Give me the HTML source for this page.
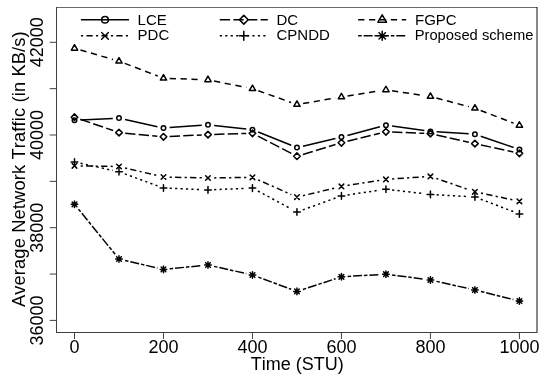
<!DOCTYPE html><html><head><meta charset="utf-8"><style>html,body{margin:0;padding:0;background:#fff;}svg{display:block;}text{font-family:"Liberation Sans",Arial,sans-serif;fill:#000;font-kerning:none;}</style></head><body>
<svg width="550" height="381" viewBox="0 0 550 381">
<rect width="550" height="381" fill="#fff"/>
<path d="M56.5 7V333" stroke="#404040" stroke-width="1"/>
<path d="M56 332.5H537.5" stroke="#404040" stroke-width="1"/>
<path d="M57 7.5H537" stroke="#6a6a6a" stroke-width="1"/>
<path d="M537 7V332" stroke="#111" stroke-width="1"/>
<path d="M74.5 332.5V339M163.48 332.5V339M252.46 332.5V339M341.44 332.5V339M430.42 332.5V339M519.4 332.5V339M56.5 320.4H49.7M56.5 274.05H49.7M56.5 227.7H49.7M56.5 181.35H49.7M56.5 135H49.7M56.5 88.65H49.7M56.5 42.3H49.7" stroke="#404040" stroke-width="1" fill="none"/>
<text x="74.5" y="353.4" font-size="18" text-anchor="middle">0</text>
<text x="163.48" y="353.4" font-size="18" text-anchor="middle">200</text>
<text x="252.46" y="353.4" font-size="18" text-anchor="middle">400</text>
<text x="341.44" y="353.4" font-size="18" text-anchor="middle">600</text>
<text x="430.42" y="353.4" font-size="18" text-anchor="middle">800</text>
<text x="519.4" y="353.4" font-size="18" text-anchor="middle">1000</text>
<text transform="translate(43.2 320.4) rotate(-90)" font-size="18" text-anchor="middle">36000</text>
<text transform="translate(43.2 227.7) rotate(-90)" font-size="18" text-anchor="middle">38000</text>
<text transform="translate(43.2 135) rotate(-90)" font-size="18" text-anchor="middle">40000</text>
<text transform="translate(43.2 42.3) rotate(-90)" font-size="18" text-anchor="middle">42000</text>
<text x="297.2" y="370.4" font-size="18" text-anchor="middle">Time (STU)</text>
<text transform="translate(24.8 169.2) rotate(-90)" font-size="18.3" text-anchor="middle" textLength="275.8" lengthAdjust="spacing">Average Network Traffic (in KB/s)</text>
<g fill="none" stroke="#000" stroke-width="1.5" stroke-dasharray="6.24 4.64"><path d="M80.46 50.07L113.03 59.48"/><path d="M124.78 63.41L157.69 75.99"/><path d="M169.68 78.42L201.77 79.58"/><path d="M214.05 81.02L246.38 87.48"/><path d="M258.3 90.77L291.11 102.43"/><path d="M303.06 103.47L335.33 98.03"/><path d="M347.56 96.02L379.81 90.88"/><path d="M392.06 90.81L424.29 95.59"/><path d="M436.42 98.08L468.91 106.62"/><path d="M480.69 110.44L513.62 123.16"/></g>
<path d="M74.5 44.7L77.66 50.18L71.34 50.18Z" fill="none" stroke="#000" stroke-width="1.5" stroke-linecap="round" stroke-linejoin="round"/>
<path d="M118.99 57.55L122.15 63.03L115.83 63.03Z" fill="none" stroke="#000" stroke-width="1.5" stroke-linecap="round" stroke-linejoin="round"/>
<path d="M163.48 74.55L166.64 80.03L160.32 80.03Z" fill="none" stroke="#000" stroke-width="1.5" stroke-linecap="round" stroke-linejoin="round"/>
<path d="M207.97 76.15L211.13 81.63L204.81 81.63Z" fill="none" stroke="#000" stroke-width="1.5" stroke-linecap="round" stroke-linejoin="round"/>
<path d="M252.46 85.05L255.62 90.53L249.3 90.53Z" fill="none" stroke="#000" stroke-width="1.5" stroke-linecap="round" stroke-linejoin="round"/>
<path d="M296.95 100.85L300.11 106.33L293.79 106.33Z" fill="none" stroke="#000" stroke-width="1.5" stroke-linecap="round" stroke-linejoin="round"/>
<path d="M341.44 93.35L344.6 98.83L338.28 98.83Z" fill="none" stroke="#000" stroke-width="1.5" stroke-linecap="round" stroke-linejoin="round"/>
<path d="M385.93 86.25L389.09 91.73L382.77 91.73Z" fill="none" stroke="#000" stroke-width="1.5" stroke-linecap="round" stroke-linejoin="round"/>
<path d="M430.42 92.85L433.58 98.33L427.26 98.33Z" fill="none" stroke="#000" stroke-width="1.5" stroke-linecap="round" stroke-linejoin="round"/>
<path d="M474.91 104.55L478.07 110.03L471.75 110.03Z" fill="none" stroke="#000" stroke-width="1.5" stroke-linecap="round" stroke-linejoin="round"/>
<path d="M519.4 121.75L522.56 127.23L516.24 127.23Z" fill="none" stroke="#000" stroke-width="1.5" stroke-linecap="round" stroke-linejoin="round"/>
<g fill="none" stroke="#000" stroke-width="1.5"><path d="M80.69 119.91L112.8 118.39"/><path d="M125.04 119.45L157.43 126.65"/><path d="M169.66 127.56L201.79 125.24"/><path d="M214.13 125.48L246.3 129.02"/><path d="M258.21 132.01L291.2 145.29"/><path d="M302.98 146.16L335.41 138.44"/><path d="M347.43 135.41L379.94 126.79"/><path d="M392.07 126.06L424.28 130.54"/><path d="M436.61 131.79L468.72 133.81"/><path d="M480.77 136.22L513.54 147.48"/></g>
<circle cx="74.5" cy="120.2" r="2.25" fill="none" stroke="#000" stroke-width="1.5" stroke-linecap="round"/>
<circle cx="118.99" cy="118.1" r="2.25" fill="none" stroke="#000" stroke-width="1.5" stroke-linecap="round"/>
<circle cx="163.48" cy="128" r="2.25" fill="none" stroke="#000" stroke-width="1.5" stroke-linecap="round"/>
<circle cx="207.97" cy="124.8" r="2.25" fill="none" stroke="#000" stroke-width="1.5" stroke-linecap="round"/>
<circle cx="252.46" cy="129.7" r="2.25" fill="none" stroke="#000" stroke-width="1.5" stroke-linecap="round"/>
<circle cx="296.95" cy="147.6" r="2.25" fill="none" stroke="#000" stroke-width="1.5" stroke-linecap="round"/>
<circle cx="341.44" cy="137" r="2.25" fill="none" stroke="#000" stroke-width="1.5" stroke-linecap="round"/>
<circle cx="385.93" cy="125.2" r="2.25" fill="none" stroke="#000" stroke-width="1.5" stroke-linecap="round"/>
<circle cx="430.42" cy="131.4" r="2.25" fill="none" stroke="#000" stroke-width="1.5" stroke-linecap="round"/>
<circle cx="474.91" cy="134.2" r="2.25" fill="none" stroke="#000" stroke-width="1.5" stroke-linecap="round"/>
<circle cx="519.4" cy="149.5" r="2.25" fill="none" stroke="#000" stroke-width="1.5" stroke-linecap="round"/>
<g fill="none" stroke="#000" stroke-width="1.5" stroke-dasharray="10.32 3.28"><path d="M80.36 119.23L113.13 130.57"/><path d="M125.16 133.18L157.31 136.22"/><path d="M169.67 136.49L201.78 134.91"/><path d="M214.17 134.42L246.26 133.48"/><path d="M257.97 136.14L291.44 153.36"/><path d="M302.89 154.41L335.5 144.59"/><path d="M347.46 141.31L379.91 133.29"/><path d="M392.12 132.05L424.23 133.35"/><path d="M436.47 134.96L468.86 142.24"/><path d="M480.97 144.92L513.34 151.98"/></g>
<path d="M74.5 113.9L77.8 117.2L74.5 120.5L71.2 117.2Z" fill="none" stroke="#000" stroke-width="1.5" stroke-linecap="round" stroke-linejoin="round"/>
<path d="M118.99 129.3L122.29 132.6L118.99 135.9L115.69 132.6Z" fill="none" stroke="#000" stroke-width="1.5" stroke-linecap="round" stroke-linejoin="round"/>
<path d="M163.48 133.5L166.78 136.8L163.48 140.1L160.18 136.8Z" fill="none" stroke="#000" stroke-width="1.5" stroke-linecap="round" stroke-linejoin="round"/>
<path d="M207.97 131.3L211.27 134.6L207.97 137.9L204.67 134.6Z" fill="none" stroke="#000" stroke-width="1.5" stroke-linecap="round" stroke-linejoin="round"/>
<path d="M252.46 130L255.76 133.3L252.46 136.6L249.16 133.3Z" fill="none" stroke="#000" stroke-width="1.5" stroke-linecap="round" stroke-linejoin="round"/>
<path d="M296.95 152.9L300.25 156.2L296.95 159.5L293.65 156.2Z" fill="none" stroke="#000" stroke-width="1.5" stroke-linecap="round" stroke-linejoin="round"/>
<path d="M341.44 139.5L344.74 142.8L341.44 146.1L338.14 142.8Z" fill="none" stroke="#000" stroke-width="1.5" stroke-linecap="round" stroke-linejoin="round"/>
<path d="M385.93 128.5L389.23 131.8L385.93 135.1L382.63 131.8Z" fill="none" stroke="#000" stroke-width="1.5" stroke-linecap="round" stroke-linejoin="round"/>
<path d="M430.42 130.3L433.72 133.6L430.42 136.9L427.12 133.6Z" fill="none" stroke="#000" stroke-width="1.5" stroke-linecap="round" stroke-linejoin="round"/>
<path d="M474.91 140.3L478.21 143.6L474.91 146.9L471.61 143.6Z" fill="none" stroke="#000" stroke-width="1.5" stroke-linecap="round" stroke-linejoin="round"/>
<path d="M519.4 150L522.7 153.3L519.4 156.6L516.1 153.3Z" fill="none" stroke="#000" stroke-width="1.5" stroke-linecap="round" stroke-linejoin="round"/>
<g fill="none" stroke="#000" stroke-width="1.5" stroke-dasharray="2.16 3.28 6.24 3.28"><path d="M80.7 165.9L112.79 166.4"/><path d="M125.02 167.92L157.45 175.58"/><path d="M169.68 177.14L201.77 177.86"/><path d="M214.17 177.9L246.26 177.4"/><path d="M258.12 179.82L291.29 194.58"/><path d="M302.98 195.65L335.41 187.85"/><path d="M347.56 185.44L379.81 180.36"/><path d="M392.12 178.98L424.23 176.82"/><path d="M436.28 178.43L469.05 189.77"/><path d="M480.97 193.09L513.34 200.01"/></g>
<path d="M72.2 163.5L76.8 168.1M72.2 168.1L76.8 163.5" fill="none" stroke="#000" stroke-width="1.5" stroke-linecap="round"/>
<path d="M116.69 164.2L121.29 168.8M116.69 168.8L121.29 164.2" fill="none" stroke="#000" stroke-width="1.5" stroke-linecap="round"/>
<path d="M161.18 174.7L165.78 179.3M161.18 179.3L165.78 174.7" fill="none" stroke="#000" stroke-width="1.5" stroke-linecap="round"/>
<path d="M205.67 175.7L210.27 180.3M205.67 180.3L210.27 175.7" fill="none" stroke="#000" stroke-width="1.5" stroke-linecap="round"/>
<path d="M250.16 175L254.76 179.6M250.16 179.6L254.76 175" fill="none" stroke="#000" stroke-width="1.5" stroke-linecap="round"/>
<path d="M294.65 194.8L299.25 199.4M294.65 199.4L299.25 194.8" fill="none" stroke="#000" stroke-width="1.5" stroke-linecap="round"/>
<path d="M339.14 184.1L343.74 188.7M339.14 188.7L343.74 184.1" fill="none" stroke="#000" stroke-width="1.5" stroke-linecap="round"/>
<path d="M383.63 177.1L388.23 181.7M383.63 181.7L388.23 177.1" fill="none" stroke="#000" stroke-width="1.5" stroke-linecap="round"/>
<path d="M428.12 174.1L432.72 178.7M428.12 178.7L432.72 174.1" fill="none" stroke="#000" stroke-width="1.5" stroke-linecap="round"/>
<path d="M472.61 189.5L477.21 194.1M472.61 194.1L477.21 189.5" fill="none" stroke="#000" stroke-width="1.5" stroke-linecap="round"/>
<path d="M517.1 199L521.7 203.6M517.1 203.6L521.7 199" fill="none" stroke="#000" stroke-width="1.5" stroke-linecap="round"/>
<g fill="none" stroke="#000" stroke-width="1.5" stroke-dasharray="2.16 3.28"><path d="M80.55 163.33L112.94 170.47"/><path d="M124.82 173.92L157.65 185.88"/><path d="M169.67 188.26L201.78 189.64"/><path d="M214.16 189.65L246.27 188.35"/><path d="M257.92 191.03L291.49 209.07"/><path d="M302.78 209.89L335.61 198.01"/><path d="M347.57 194.98L379.8 190.12"/><path d="M392.09 189.92L424.26 193.68"/><path d="M436.61 194.76L468.72 196.64"/><path d="M480.71 199.2L513.6 211.7"/></g>
<path d="M71.18 162H77.82M74.5 158.68V165.32" fill="none" stroke="#000" stroke-width="1.5" stroke-linecap="round"/>
<path d="M115.67 171.8H122.31M118.99 168.48V175.12" fill="none" stroke="#000" stroke-width="1.5" stroke-linecap="round"/>
<path d="M160.16 188H166.8M163.48 184.68V191.32" fill="none" stroke="#000" stroke-width="1.5" stroke-linecap="round"/>
<path d="M204.65 189.9H211.29M207.97 186.58V193.22" fill="none" stroke="#000" stroke-width="1.5" stroke-linecap="round"/>
<path d="M249.14 188.1H255.78M252.46 184.78V191.42" fill="none" stroke="#000" stroke-width="1.5" stroke-linecap="round"/>
<path d="M293.63 212H300.27M296.95 208.68V215.32" fill="none" stroke="#000" stroke-width="1.5" stroke-linecap="round"/>
<path d="M338.12 195.9H344.76M341.44 192.58V199.22" fill="none" stroke="#000" stroke-width="1.5" stroke-linecap="round"/>
<path d="M382.61 189.2H389.25M385.93 185.88V192.52" fill="none" stroke="#000" stroke-width="1.5" stroke-linecap="round"/>
<path d="M427.1 194.4H433.74M430.42 191.08V197.72" fill="none" stroke="#000" stroke-width="1.5" stroke-linecap="round"/>
<path d="M471.59 197H478.23M474.91 193.68V200.32" fill="none" stroke="#000" stroke-width="1.5" stroke-linecap="round"/>
<path d="M516.08 213.9H522.72M519.4 210.58V217.22" fill="none" stroke="#000" stroke-width="1.5" stroke-linecap="round"/>
<g fill="none" stroke="#000" stroke-width="1.5" stroke-dasharray="3.52 1.92 8.96 1.92"><path d="M78.41 209.11L115.08 254.19"/><path d="M125.03 260.41L157.44 267.99"/><path d="M169.65 268.79L201.8 265.61"/><path d="M214.02 266.36L246.41 273.64"/><path d="M258.28 277.14L291.13 289.26"/><path d="M302.84 289.47L335.55 278.73"/><path d="M347.63 276.44L379.74 274.56"/><path d="M392.08 275L424.27 279.2"/><path d="M436.47 281.36L468.86 288.64"/><path d="M480.93 291.49L513.38 299.51"/></g>
<path d="M71.2 204.3H77.8M74.5 201V207.6M72.17 201.97L76.83 206.63M72.17 206.63L76.83 201.97" fill="none" stroke="#000" stroke-width="1.5" stroke-linecap="round"/>
<path d="M115.69 259H122.29M118.99 255.7V262.3M116.66 256.67L121.32 261.33M116.66 261.33L121.32 256.67" fill="none" stroke="#000" stroke-width="1.5" stroke-linecap="round"/>
<path d="M160.18 269.4H166.78M163.48 266.1V272.7M161.15 267.07L165.81 271.73M161.15 271.73L165.81 267.07" fill="none" stroke="#000" stroke-width="1.5" stroke-linecap="round"/>
<path d="M204.67 265H211.27M207.97 261.7V268.3M205.64 262.67L210.3 267.33M205.64 267.33L210.3 262.67" fill="none" stroke="#000" stroke-width="1.5" stroke-linecap="round"/>
<path d="M249.16 275H255.76M252.46 271.7V278.3M250.13 272.67L254.79 277.33M250.13 277.33L254.79 272.67" fill="none" stroke="#000" stroke-width="1.5" stroke-linecap="round"/>
<path d="M293.65 291.4H300.25M296.95 288.1V294.7M294.62 289.07L299.28 293.73M294.62 293.73L299.28 289.07" fill="none" stroke="#000" stroke-width="1.5" stroke-linecap="round"/>
<path d="M338.14 276.8H344.74M341.44 273.5V280.1M339.11 274.47L343.77 279.13M339.11 279.13L343.77 274.47" fill="none" stroke="#000" stroke-width="1.5" stroke-linecap="round"/>
<path d="M382.63 274.2H389.23M385.93 270.9V277.5M383.6 271.87L388.26 276.53M383.6 276.53L388.26 271.87" fill="none" stroke="#000" stroke-width="1.5" stroke-linecap="round"/>
<path d="M427.12 280H433.72M430.42 276.7V283.3M428.09 277.67L432.75 282.33M428.09 282.33L432.75 277.67" fill="none" stroke="#000" stroke-width="1.5" stroke-linecap="round"/>
<path d="M471.61 290H478.21M474.91 286.7V293.3M472.58 287.67L477.24 292.33M472.58 292.33L477.24 287.67" fill="none" stroke="#000" stroke-width="1.5" stroke-linecap="round"/>
<path d="M516.1 301H522.7M519.4 297.7V304.3M517.07 298.67L521.73 303.33M517.07 303.33L521.73 298.67" fill="none" stroke="#000" stroke-width="1.5" stroke-linecap="round"/>
<path d="M81 19.75H129" fill="none" stroke="#000" stroke-width="1.5"/>
<circle cx="105" cy="19.75" r="3.35" fill="none" stroke="#000" stroke-width="1.5" stroke-linecap="round"/>
<text x="137.6" y="24.6" font-size="15">LCE</text>
<path d="M81 35.85H129" fill="none" stroke="#000" stroke-width="1.5" stroke-dasharray="2.16 3.28 6.24 3.28"/>
<path d="M101.6 32.45L108.4 39.25M101.6 39.25L108.4 32.45" fill="none" stroke="#000" stroke-width="1.5" stroke-linecap="round"/>
<text x="137.6" y="40.4" font-size="15">PDC</text>
<path d="M219.8 19.75H267.8" fill="none" stroke="#000" stroke-width="1.5" stroke-dasharray="10.32 3.28"/>
<path d="M243.8 15.37L248.18 19.75L243.8 24.13L239.42 19.75Z" fill="none" stroke="#000" stroke-width="1.5" stroke-linecap="round" stroke-linejoin="round"/>
<text x="276.5" y="24.6" font-size="15">DC</text>
<path d="M219.8 35.85H267.8" fill="none" stroke="#000" stroke-width="1.5" stroke-dasharray="2.16 3.28"/>
<path d="M239.3 35.85H248.3M243.8 31.35V40.35" fill="none" stroke="#000" stroke-width="1.5" stroke-linecap="round"/>
<text x="276.5" y="40.4" font-size="15">CPNDD</text>
<path d="M358.2 19.75H406.2" fill="none" stroke="#000" stroke-width="1.5" stroke-dasharray="6.24 4.64"/>
<path d="M382.2 14.77L386.51 22.24L377.89 22.24Z" fill="none" stroke="#000" stroke-width="1.5" stroke-linecap="round" stroke-linejoin="round"/>
<text x="415" y="24.6" font-size="15">FGPC</text>
<path d="M358.2 35.85H406.2" fill="none" stroke="#000" stroke-width="1.5" stroke-dasharray="3.52 1.92 8.96 1.92"/>
<path d="M377.7 35.85H386.7M382.2 31.35V40.35M379.02 32.67L385.38 39.03M379.02 39.03L385.38 32.67" fill="none" stroke="#000" stroke-width="1.5" stroke-linecap="round"/>
<text x="414.7" y="40.4" font-size="15" textLength="118.8" lengthAdjust="spacingAndGlyphs">Proposed scheme</text>
</svg></body></html>
